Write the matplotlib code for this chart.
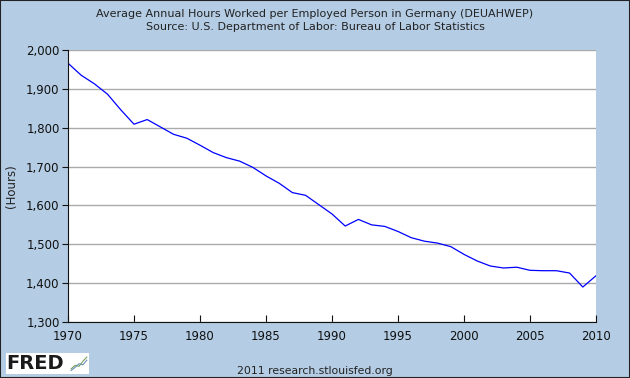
import numpy as np
import matplotlib
matplotlib.use('Agg')
import matplotlib.pyplot as plt
from matplotlib.patches import Rectangle
from matplotlib.ticker import FuncFormatter

years = list(range(1970, 2011))
hours = [1966, 1935, 1913, 1886, 1846, 1809, 1821, 1802, 1783, 1773,
         1755, 1736, 1723, 1714, 1698, 1676, 1657, 1633, 1626, 1602,
         1578, 1547, 1564, 1550, 1546, 1533, 1517, 1508, 1503, 1494,
         1474, 1457, 1444, 1439, 1441, 1433, 1432, 1432, 1426, 1390,
         1419]

title = ('Average Annual Hours Worked per Employed Person in Germany (DEUAHWEP)\n'
         'Source: U.S. Department of Labor: Bureau of Labor Statistics')

bg = '#b4cde4'
fig = plt.figure(figsize=(6.3, 3.78), dpi=100, facecolor=bg)
fig.patches.append(Rectangle((0, 0), 1, 1, transform=fig.transFigure,
                             fill=False, edgecolor='#222222', lw=1.5))

ax = fig.add_axes([68/630, 1 - 322/378, 528/630, 272/378])
ax.plot(years, hours, color='#0000ff', lw=0.9)
ax.set_xlim(1970, 2010)
ax.set_ylim(1300, 2000)
ax.set_xticks(range(1970, 2011, 5))
ax.set_yticks(range(1300, 2001, 100))
ax.yaxis.set_major_formatter(FuncFormatter(lambda v, p: f'{int(v):,}'))
ax.grid(axis='y', color='#aaaaaa', lw=1)
ax.set_axisbelow(True)
for s in ['top', 'right']:
    ax.spines[s].set_visible(False)
ax.spines['left'].set_color('#111111')
ax.spines['bottom'].set_color('#111111')
ax.tick_params(axis='x', direction='in', length=5, labelsize=8.5,
               colors='#111111', pad=6)
ax.tick_params(axis='y', direction='out', length=4, labelsize=8.5,
               colors='#111111', pad=2)
ax.set_ylabel('(Hours)', fontsize=8.5, color='#222222')
ax.yaxis.set_label_coords(-0.095, 0.5)

fig.text(0.5, 1 - 20.5/378, title, ha='center', va='center', fontsize=8,
         color='#222222', linespacing=1.3)
fig.text(0.5, 1 - 371/378, '2011 research.stlouisfed.org', ha='center',
         va='center', fontsize=7.8, color='#222222')

# FRED logo
fig.patches.append(Rectangle((6/630, 1 - 374/378), 83/630, 21/378,
                             transform=fig.transFigure, facecolor='white',
                             edgecolor='none'))
fig.text(6/630, 1 - 363.5/378, 'FRED', ha='left', va='center', fontsize=14,
         fontweight='bold', color='#1a1a1a')
icon = fig.add_axes([70/630, 1 - 373/378, 18/630, 18/378], zorder=5)
icon.patch.set_alpha(0)
icon.plot([0, 1, 2, 3, 4], [0.5, 1.2, 1.0, 2.0, 2.8], color='#7aa05a', lw=0.8)
icon.plot([0, 1, 2, 3, 4], [0.2, 0.8, 1.5, 1.3, 2.2], color='#6b8fb8', lw=0.8)
icon.set_xlim(-0.3, 4.3)
icon.set_ylim(-0.3, 3.2)
icon.axis('off')

fig.savefig('out.png', dpi=100, facecolor=bg)
